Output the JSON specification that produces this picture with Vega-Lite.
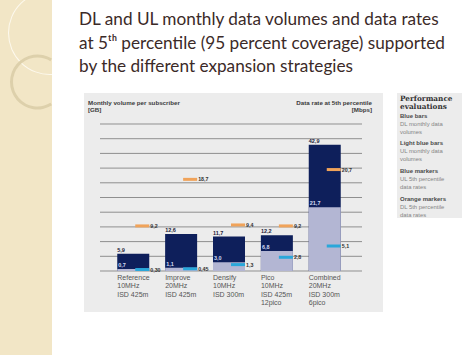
{
  "$schema": "https://vega.github.io/schema/vega-lite/v6.json",
  "width": 474,
  "height": 355,
  "autosize": "none",
  "padding": 0,
  "background": "white",
  "config": {"view": {"stroke": null}, "scale": {"continuousPadding": 0}},
  "datasets": {
    "cats": [
      {"pos": 1, "label": "Reference\n10MHz\nISD 425m", "dl": 5.9, "ul": 0.7, "dl_txt": "5,9", "ul_txt": "0,7", "orange": 9.2, "blue": 0.30, "orange_txt": "9,2", "blue_txt": "0,30"},
      {"pos": 2, "label": "Improve\n20MHz\nISD 425m", "dl": 12.6, "ul": 1.1, "dl_txt": "12,6", "ul_txt": "1,1", "orange": 18.7, "blue": 0.45, "orange_txt": "18,7", "blue_txt": "0,45"},
      {"pos": 3, "label": "Densify\n10MHz\nISD 300m", "dl": 11.7, "ul": 3.0, "dl_txt": "11,7", "ul_txt": "3,0", "orange": 9.4, "blue": 1.3, "orange_txt": "9,4", "blue_txt": "1,3"},
      {"pos": 4, "label": "Pico\n10MHz\nISD 425m\n12pico", "dl": 12.2, "ul": 6.8, "dl_txt": "12,2", "ul_txt": "6,8", "orange": 9.2, "blue": 2.8, "orange_txt": "9,2", "blue_txt": "2,8"},
      {"pos": 5, "label": "Combined\n20MHz\nISD 300m\n6pico", "dl": 42.9, "ul": 21.7, "dl_txt": "42,9", "ul_txt": "21,7", "orange": 20.7, "blue": 5.1, "orange_txt": "20,7", "blue_txt": "5,1"}
    ],
    "grid": [{"g": 0}, {"g": 5}, {"g": 10}, {"g": 15}, {"g": 20}, {"g": 25}, {"g": 30}, {"g": 35}, {"g": 40}, {"g": 45}, {"g": 50}]
  },
  "layer": [
    {
      "layer": [
        {
          "data": {"values": [{}]},
          "mark": {"type": "rect", "color": "#f2e6c6"},
          "encoding": {
            "x": {"datum": -1.7833, "type": "quantitative", "scale": {"domain": [-1.7833, 8.1175], "nice": false, "zero": false, "padding": 0}, "axis": null},
            "x2": {"datum": -0.6971},
            "y": {"datum": -28.571, "type": "quantitative", "scale": {"domain": [-28.571, 92.177], "nice": false, "zero": false}, "axis": null},
            "y2": {"datum": 92.177}
          }
        },
        {
          "data": {"values": [{}]},
          "mark": {"type": "arc", "radius": 42, "radius2": 41, "theta": 3.094, "theta2": 6.331, "color": "#fdf9ee"},
          "encoding": {
            "x": {"datum": -0.7389, "type": "quantitative", "scale": {"domain": [-1.7833, 8.1175], "nice": false, "zero": false, "padding": 0}, "axis": null},
            "y": {"datum": 80.95, "type": "quantitative", "scale": {"domain": [-28.571, 92.177], "nice": false, "zero": false}, "axis": null}
          }
        },
        {
          "data": {"values": [{}]},
          "mark": {"type": "arc", "radius": 27.5, "radius2": 24.5, "theta": 2.586, "theta2": 6.838, "color": "#ddd0ab"},
          "encoding": {
            "x": {"datum": -1.0, "type": "quantitative", "scale": {"domain": [-1.7833, 8.1175], "nice": false, "zero": false, "padding": 0}, "axis": null},
            "y": {"datum": 64.29, "type": "quantitative", "scale": {"domain": [-28.571, 92.177], "nice": false, "zero": false}, "axis": null}
          }
        },
        {
          "data": {"values": [{}]},
          "mark": {"type": "rect", "color": "#ececec"},
          "encoding": {
            "x": {"datum": -0.0287, "type": "quantitative", "scale": {"domain": [-1.7833, 8.1175], "nice": false, "zero": false, "padding": 0}, "axis": null},
            "x2": {"datum": 6.2167},
            "y": {"datum": -13.946, "type": "quantitative", "scale": {"domain": [-28.571, 92.177], "nice": false, "zero": false}, "axis": null},
            "y2": {"datum": 60.544}
          }
        },
        {
          "data": {"values": [{}]},
          "mark": {"type": "rect", "color": "#ececec"},
          "encoding": {
            "x": {"datum": 6.5091, "type": "quantitative", "scale": {"domain": [-1.7833, 8.1175], "nice": false, "zero": false, "padding": 0}, "axis": null},
            "x2": {"datum": 7.8669},
            "y": {"datum": 18.027, "type": "quantitative", "scale": {"domain": [-28.571, 92.177], "nice": false, "zero": false}, "axis": null},
            "y2": {"datum": 60.544}
          }
        },
        {
          "data": {"name": "grid"},
          "mark": {"type": "rule", "color": "#8f8f8f", "strokeWidth": 1},
          "encoding": {
            "x": {"datum": 0.3055, "type": "quantitative", "scale": {"domain": [-1.7833, 8.1175], "nice": false, "zero": false, "padding": 0}, "axis": null},
            "x2": {"datum": 5.7781},
            "y": {
              "field": "g", "type": "quantitative",
              "scale": {"domain": [-28.571, 92.177], "nice": false, "zero": false},
              "axis": {
                "orient": "left", "offset": -100, "values": [0, 5, 10, 15, 20, 25, 30, 35, 40, 45, 50],
                "grid": false, "domain": false, "ticks": false, "labelPadding": 2, "labelFlush": false,
                "labelFont": "Liberation Sans", "labelFontSize": 5.8, "labelColor": "#444444", "title": null
              }
            }
          }
        },
        {
          "data": {"name": "cats"},
          "mark": {"type": "bar", "width": 32, "color": "#0e1f5b"},
          "encoding": {
            "x": {"field": "pos", "type": "quantitative", "scale": {"domain": [-1.7833, 8.1175], "nice": false, "zero": false, "padding": 0}, "axis": null},
            "y": {"field": "dl", "type": "quantitative", "scale": {"domain": [-28.571, 92.177], "nice": false, "zero": false}, "axis": null},
            "y2": {"datum": 0}
          }
        },
        {
          "data": {"name": "cats"},
          "mark": {"type": "bar", "width": 32, "color": "#b3b6d3"},
          "encoding": {
            "x": {"field": "pos", "type": "quantitative", "scale": {"domain": [-1.7833, 8.1175], "nice": false, "zero": false, "padding": 0}, "axis": null},
            "y": {"field": "ul", "type": "quantitative", "scale": {"domain": [-28.571, 92.177], "nice": false, "zero": false}, "axis": null},
            "y2": {"datum": 0}
          }
        },
        {
          "data": {"name": "cats"},
          "mark": {"type": "text", "align": "left", "baseline": "bottom", "xOffset": -16, "dy": -1, "font": "Liberation Sans", "fontSize": 5.5, "fontWeight": "bold", "color": "#1c1c3a"},
          "encoding": {
            "x": {"field": "pos", "type": "quantitative", "scale": {"domain": [-1.7833, 8.1175], "nice": false, "zero": false, "padding": 0}, "axis": null},
            "y": {"field": "dl", "type": "quantitative", "scale": {"domain": [-28.571, 92.177], "nice": false, "zero": false}, "axis": null},
            "text": {"field": "dl_txt"}
          }
        },
        {
          "data": {"name": "cats"},
          "mark": {"type": "text", "align": "left", "baseline": "bottom", "xOffset": -15, "dy": -1, "font": "Liberation Sans", "fontSize": 5.5, "fontWeight": "bold", "color": "#d4dcf4"},
          "encoding": {
            "x": {"field": "pos", "type": "quantitative", "scale": {"domain": [-1.7833, 8.1175], "nice": false, "zero": false, "padding": 0}, "axis": null},
            "y": {"field": "ul", "type": "quantitative", "scale": {"domain": [-28.571, 92.177], "nice": false, "zero": false}, "axis": null},
            "text": {"field": "ul_txt"}
          }
        },
        {
          "data": {"name": "cats"},
          "mark": {"type": "text", "align": "left", "baseline": "top", "xOffset": -16, "lineBreak": "\n", "lineHeight": 8.4, "font": "Liberation Sans", "fontSize": 7, "color": "#555555"},
          "encoding": {
            "x": {"field": "pos", "type": "quantitative", "scale": {"domain": [-1.7833, 8.1175], "nice": false, "zero": false, "padding": 0}, "axis": null},
            "y": {"datum": -1.02, "type": "quantitative", "scale": {"domain": [-28.571, 92.177], "nice": false, "zero": false}, "axis": null},
            "text": {"field": "label"}
          }
        },
        {
          "data": {"values": [{}]},
          "mark": {"type": "text", "align": "left", "baseline": "top", "lineBreak": "\n", "lineHeight": 23.5, "font": "Lato", "fontSize": 17.2, "color": "#3b2a28", "text": "DL and UL monthly data volumes and data rates\nat 5ᵗʰ percentile (95 percent coverage) supported\nby the different expansion strategies"},
          "encoding": {
            "x": {"datum": -0.1332, "type": "quantitative", "scale": {"domain": [-1.7833, 8.1175], "nice": false, "zero": false, "padding": 0}, "axis": null},
            "y": {"datum": 88.435, "type": "quantitative", "scale": {"domain": [-28.571, 92.177], "nice": false, "zero": false}, "axis": null}
          }
        },
        {
          "data": {"values": [{}]},
          "mark": {"type": "text", "align": "left", "baseline": "top", "lineBreak": "\n", "lineHeight": 7, "font": "Liberation Sans", "fontSize": 6.2, "fontWeight": "bold", "color": "#3a3a3a", "text": "Monthly volume per subscriber\n[GB]"},
          "encoding": {
            "x": {"datum": 0.0548, "type": "quantitative", "scale": {"domain": [-1.7833, 8.1175], "nice": false, "zero": false, "padding": 0}, "axis": null},
            "y": {"datum": 58.163, "type": "quantitative", "scale": {"domain": [-28.571, 92.177], "nice": false, "zero": false}, "axis": null}
          }
        },
        {
          "data": {"values": [{}]},
          "mark": {"type": "text", "align": "right", "baseline": "top", "lineBreak": "\n", "lineHeight": 7, "font": "Liberation Sans", "fontSize": 6.2, "fontWeight": "bold", "color": "#3a3a3a", "text": "Data rate at 5th percentile\n[Mbps]"},
          "encoding": {
            "x": {"datum": 5.9869, "type": "quantitative", "scale": {"domain": [-1.7833, 8.1175], "nice": false, "zero": false, "padding": 0}, "axis": null},
            "y": {"datum": 58.163, "type": "quantitative", "scale": {"domain": [-28.571, 92.177], "nice": false, "zero": false}, "axis": null}
          }
        },
        {
          "data": {"values": [{}]},
          "mark": {"type": "text", "align": "left", "baseline": "top", "lineBreak": "\n", "lineHeight": 8, "font": "DejaVu Serif", "fontSize": 7.3, "fontWeight": "bold", "color": "#333333", "text": "Performance\nevaluations"},
          "encoding": {
            "x": {"datum": 6.5718, "type": "quantitative", "scale": {"domain": [-1.7833, 8.1175], "nice": false, "zero": false, "padding": 0}, "axis": null},
            "y": {"datum": 59.864, "type": "quantitative", "scale": {"domain": [-28.571, 92.177], "nice": false, "zero": false}, "axis": null}
          }
        },
        {
          "data": {"values": [{}]},
          "mark": {"type": "text", "align": "left", "baseline": "top", "font": "Liberation Sans", "fontSize": 6, "fontWeight": "bold", "color": "#4a4a4a", "text": "Blue bars"},
          "encoding": {
            "x": {"datum": 6.5718, "type": "quantitative", "scale": {"domain": [-1.7833, 8.1175], "nice": false, "zero": false, "padding": 0}, "axis": null},
            "y": {"datum": 53.741, "type": "quantitative", "scale": {"domain": [-28.571, 92.177], "nice": false, "zero": false}, "axis": null}
          }
        },
        {
          "data": {"values": [{}]},
          "mark": {"type": "text", "align": "left", "baseline": "top", "font": "Liberation Sans", "fontSize": 6, "fontWeight": "bold", "color": "#4a4a4a", "text": "Light blue bars"},
          "encoding": {
            "x": {"datum": 6.5718, "type": "quantitative", "scale": {"domain": [-1.7833, 8.1175], "nice": false, "zero": false, "padding": 0}, "axis": null},
            "y": {"datum": 44.558, "type": "quantitative", "scale": {"domain": [-28.571, 92.177], "nice": false, "zero": false}, "axis": null}
          }
        },
        {
          "data": {"values": [{}]},
          "mark": {"type": "text", "align": "left", "baseline": "top", "font": "Liberation Sans", "fontSize": 6, "fontWeight": "bold", "color": "#4a4a4a", "text": "Blue markers"},
          "encoding": {
            "x": {"datum": 6.5718, "type": "quantitative", "scale": {"domain": [-1.7833, 8.1175], "nice": false, "zero": false, "padding": 0}, "axis": null},
            "y": {"datum": 35.034, "type": "quantitative", "scale": {"domain": [-28.571, 92.177], "nice": false, "zero": false}, "axis": null}
          }
        },
        {
          "data": {"values": [{}]},
          "mark": {"type": "text", "align": "left", "baseline": "top", "font": "Liberation Sans", "fontSize": 6, "fontWeight": "bold", "color": "#4a4a4a", "text": "Orange markers"},
          "encoding": {
            "x": {"datum": 6.5718, "type": "quantitative", "scale": {"domain": [-1.7833, 8.1175], "nice": false, "zero": false, "padding": 0}, "axis": null},
            "y": {"datum": 25.51, "type": "quantitative", "scale": {"domain": [-28.571, 92.177], "nice": false, "zero": false}, "axis": null}
          }
        },
        {
          "data": {"values": [{}]},
          "mark": {"type": "text", "align": "left", "baseline": "top", "lineBreak": "\n", "lineHeight": 7.7, "font": "Liberation Sans", "fontSize": 5.9, "color": "#858585", "text": "DL monthly data\nvolumes"},
          "encoding": {
            "x": {"datum": 6.5718, "type": "quantitative", "scale": {"domain": [-1.7833, 8.1175], "nice": false, "zero": false, "padding": 0}, "axis": null},
            "y": {"datum": 51.02, "type": "quantitative", "scale": {"domain": [-28.571, 92.177], "nice": false, "zero": false}, "axis": null}
          }
        },
        {
          "data": {"values": [{}]},
          "mark": {"type": "text", "align": "left", "baseline": "top", "lineBreak": "\n", "lineHeight": 7.7, "font": "Liberation Sans", "fontSize": 5.9, "color": "#858585", "text": "UL monthly data\nvolumes"},
          "encoding": {
            "x": {"datum": 6.5718, "type": "quantitative", "scale": {"domain": [-1.7833, 8.1175], "nice": false, "zero": false, "padding": 0}, "axis": null},
            "y": {"datum": 41.837, "type": "quantitative", "scale": {"domain": [-28.571, 92.177], "nice": false, "zero": false}, "axis": null}
          }
        },
        {
          "data": {"values": [{}]},
          "mark": {"type": "text", "align": "left", "baseline": "top", "lineBreak": "\n", "lineHeight": 7.7, "font": "Liberation Sans", "fontSize": 5.9, "color": "#858585", "text": "UL 5th percentile\ndata rates"},
          "encoding": {
            "x": {"datum": 6.5718, "type": "quantitative", "scale": {"domain": [-1.7833, 8.1175], "nice": false, "zero": false, "padding": 0}, "axis": null},
            "y": {"datum": 32.313, "type": "quantitative", "scale": {"domain": [-28.571, 92.177], "nice": false, "zero": false}, "axis": null}
          }
        },
        {
          "data": {"values": [{}]},
          "mark": {"type": "text", "align": "left", "baseline": "top", "lineBreak": "\n", "lineHeight": 7.7, "font": "Liberation Sans", "fontSize": 5.9, "color": "#858585", "text": "DL 5th percentile\ndata rates"},
          "encoding": {
            "x": {"datum": 6.5718, "type": "quantitative", "scale": {"domain": [-1.7833, 8.1175], "nice": false, "zero": false, "padding": 0}, "axis": null},
            "y": {"datum": 22.789, "type": "quantitative", "scale": {"domain": [-28.571, 92.177], "nice": false, "zero": false}, "axis": null}
          }
        }
      ]
    },
    {
      "data": {"name": "cats"},
      "layer": [
        {
          "mark": {"type": "tick", "orient": "horizontal", "size": 14, "thickness": 3, "xOffset": 9, "color": "#f0a35a", "opacity": 1},
          "encoding": {
            "x": {"field": "pos", "type": "quantitative", "scale": {"domain": [-1.7833, 8.1175], "nice": false, "zero": false, "padding": 0}, "axis": null},
            "y": {
              "field": "orange", "type": "quantitative",
              "scale": {"domain": [-17.143, 55.306], "nice": false, "zero": false},
              "axis": {
                "orient": "right", "offset": -112, "values": [0, 5, 10, 15, 20, 25, 30],
                "grid": false, "domain": false, "ticks": false, "labelPadding": 3, "labelFlush": false,
                "labelFont": "Liberation Sans", "labelFontSize": 5.8, "labelColor": "#444444", "title": null
              }
            }
          }
        },
        {
          "mark": {"type": "tick", "orient": "horizontal", "size": 14, "thickness": 3, "xOffset": 9, "color": "#2aa7da", "opacity": 1},
          "encoding": {
            "x": {"field": "pos", "type": "quantitative", "scale": {"domain": [-1.7833, 8.1175], "nice": false, "zero": false, "padding": 0}, "axis": null},
            "y": {"field": "blue", "type": "quantitative", "scale": {"domain": [-17.143, 55.306], "nice": false, "zero": false}, "axis": null}
          }
        },
        {
          "mark": {"type": "text", "align": "left", "baseline": "middle", "xOffset": 17, "font": "Liberation Sans", "fontSize": 5.3, "fontWeight": "bold", "color": "#333333"},
          "encoding": {
            "x": {"field": "pos", "type": "quantitative", "scale": {"domain": [-1.7833, 8.1175], "nice": false, "zero": false, "padding": 0}, "axis": null},
            "y": {"field": "orange", "type": "quantitative", "scale": {"domain": [-17.143, 55.306], "nice": false, "zero": false}, "axis": null},
            "text": {"field": "orange_txt"}
          }
        },
        {
          "mark": {"type": "text", "align": "left", "baseline": "middle", "xOffset": 17, "font": "Liberation Sans", "fontSize": 5.3, "fontWeight": "bold", "color": "#333333"},
          "encoding": {
            "x": {"field": "pos", "type": "quantitative", "scale": {"domain": [-1.7833, 8.1175], "nice": false, "zero": false, "padding": 0}, "axis": null},
            "y": {"field": "blue", "type": "quantitative", "scale": {"domain": [-17.143, 55.306], "nice": false, "zero": false}, "axis": null},
            "text": {"field": "blue_txt"}
          }
        }
      ]
    }
  ],
  "resolve": {"scale": {"y": "independent"}}
}
